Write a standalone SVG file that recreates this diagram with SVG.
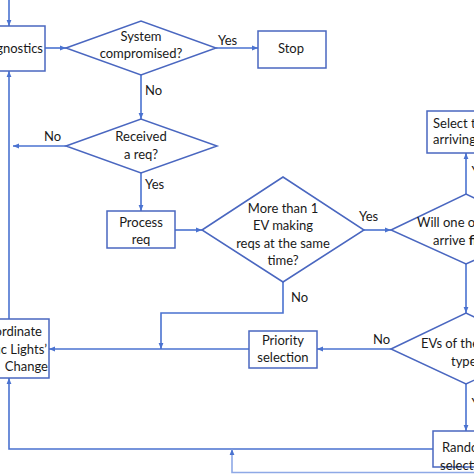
<svg xmlns="http://www.w3.org/2000/svg" width="474" height="474" viewBox="0 0 474 474">
<style>
.box{fill:#fff;stroke:#4a67c0;stroke-width:1.5}
.ln{fill:none;stroke:#4a72d0;stroke-width:1.6}
text{font-family:Lato,"Open Sans","Liberation Sans",sans-serif;font-size:13px;fill:#1a1a1a}
.c{text-anchor:middle}
.e{text-anchor:end}
</style>
<defs>
<marker id="a" viewBox="0 0 10 10" refX="10" refY="5" markerWidth="4" markerHeight="4" orient="auto"><path d="M0,1 L10,5 L0,9 z" fill="#4a72d0"/></marker>
</defs>
<rect width="474" height="474" fill="#fff"/>
<g id="connectors">
<path class="ln" d="M9,0 V26" marker-end="url(#a)"/>
<path class="ln" d="M45,48 H66" marker-end="url(#a)"/>
<path class="ln" d="M216,48 H258" marker-end="url(#a)"/>
<path class="ln" d="M141,75 V119" marker-end="url(#a)"/>
<path class="ln" d="M66,146 H13" marker-end="url(#a)"/>
<path class="ln" d="M141,173 V211" marker-end="url(#a)"/>
<path class="ln" d="M175,230 H202" marker-end="url(#a)"/>
<path class="ln" d="M364,230 H391" marker-end="url(#a)"/>
<path class="ln" d="M466,194 V153" marker-end="url(#a)"/>
<path class="ln" d="M466,264 V313" marker-end="url(#a)"/>
<path class="ln" d="M283,282 V313 H161 V349" marker-end="url(#a)"/>
<path class="ln" d="M391,349 H317" marker-end="url(#a)"/>
<path class="ln" d="M249,349 H49" marker-end="url(#a)"/>
<path class="ln" d="M9,319 V71" marker-end="url(#a)"/>
<path class="ln" d="M466,384 V431" marker-end="url(#a)"/>
<path class="ln" d="M433,449 H9 V378" marker-end="url(#a)"/>
<path class="ln" d="M480,472.5 H232 V449" marker-end="url(#a)" style="stroke:#8ea9e6"/>
</g>
<g id="diagnostics"><rect class="box" x="-40" y="26" width="85" height="45"/><text class="e" x="43" y="53">Diagnostics</text></g>
<g id="compromised"><polygon class="box" points="66,48 141,21 216,48 141,75"/><text class="c" x="141" y="41">System</text><text class="c" x="141" y="58">compromised?</text></g>
<g id="stop"><rect class="box" x="258" y="31" width="68" height="37"/><text class="c" x="291" y="53">Stop</text></g>
<g id="received"><polygon class="box" points="66,146 141,119 217,146 141,173"/><text class="c" x="141" y="141">Received</text><text class="c" x="141" y="159">a req?</text></g>
<g id="process"><rect class="box" x="107" y="211" width="68" height="37"/><text class="c" x="141" y="227">Process</text><text class="c" x="141" y="244">req</text></g>
<g id="morethan1"><polygon class="box" points="202,230 283,177 364,230 283,282"/><text class="c" x="283" y="213">More than 1</text><text class="c" x="283" y="230">EV making</text><text class="c" x="283" y="248">reqs at the same</text><text class="c" x="283" y="265">time?</text></g>
<g id="first"><polygon class="box" points="391,230 466,194 541,230 466,264"/><text x="417" y="227">Will one of them</text><text x="433" y="245">arrive <tspan font-weight="bold">first</tspan>?</text></g>
<g id="select"><rect class="box" x="427" y="111" width="80" height="42"/><text x="433" y="128">Select the EV</text><text x="433" y="144">arriving first</text></g>
<g id="sametype"><polygon class="box" points="391,349 466,313 541,349 466,384"/><text x="421" y="348">EVs of the same</text><text x="451" y="366">type?</text></g>
<g id="priority"><rect class="box" x="249" y="331" width="68" height="37"/><text class="c" x="283" y="345">Priority</text><text class="c" x="283" y="362">selection</text></g>
<g id="random"><rect class="box" x="433" y="431" width="68" height="36"/><text x="442" y="452">Random</text><text x="440" y="470">selection</text></g>
<g id="coordinate"><rect class="box" x="-50" y="319" width="99" height="59"/><text class="e" x="42" y="336">Coordinate</text><text class="e" x="47" y="354">Traffic Lights’</text><text class="e" x="48" y="371">Change</text></g>
<g id="labels">
<text x="218" y="45">Yes</text>
<text x="145" y="95">No</text>
<text x="44" y="141">No</text>
<text x="145" y="189">Yes</text>
<text x="359" y="221">Yes</text>
<text x="291" y="302">No</text>
<text x="373" y="344">No</text>
<text x="471.5" y="176">Yes</text>
<text x="471.5" y="408">Yes</text>
</g>
</svg>
